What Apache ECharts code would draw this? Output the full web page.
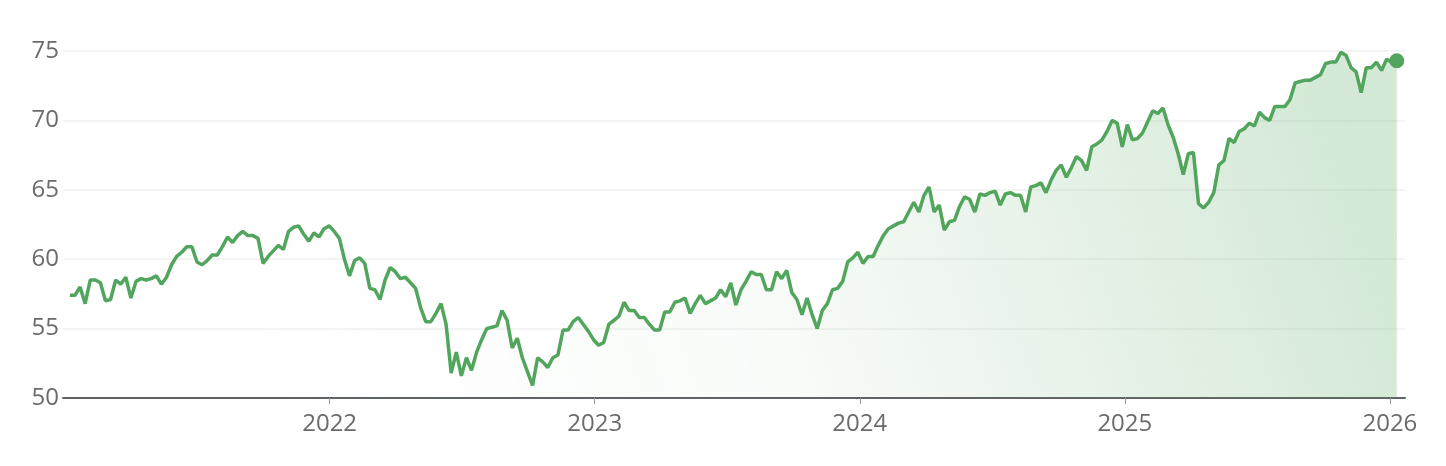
<!DOCTYPE html>
<html>
<head>
<meta charset="utf-8">
<script src="https://cdn.jsdelivr.net/npm/echarts@6/dist/echarts.min.js"></script>
<style>
  html, body { margin: 0; padding: 0; background: #fff; }
  #main { width: 1446px; height: 466px; }
</style>
</head>
<body>
<div id="main"></div>
<script>
// weekly closes, Jan 2021 .. Jan 2026
const values = [
  57.4, 57.4, 58.0, 56.8, 58.5, 58.5, 58.3, 57.0, 57.1, 58.5, 58.2, 58.7, 57.2, 58.4, 58.6, 58.5,
  58.6, 58.8, 58.2, 58.7, 59.6, 60.2, 60.5, 60.9, 60.9, 59.8, 59.6, 59.9, 60.3, 60.3, 60.9, 61.6,
  61.2, 61.7, 62.0, 61.7, 61.7, 61.5, 59.7, 60.2, 60.6, 61.0, 60.7, 62.0, 62.3, 62.4, 61.8, 61.3,
  61.9, 61.6, 62.2, 62.4, 62.0, 61.5, 60.0, 58.8, 59.9, 60.1, 59.7, 57.9, 57.8, 57.1, 58.5, 59.4,
  59.1, 58.6, 58.7, 58.3, 57.9, 56.5, 55.5, 55.5, 56.1, 56.8, 55.3, 51.8, 53.3, 51.6, 52.9, 52.0,
  53.3, 54.2, 55.0, 55.1, 55.2, 56.3, 55.6, 53.6, 54.3, 52.9, 51.9, 50.9, 52.9, 52.6, 52.2, 52.9,
  53.1, 54.9, 54.9, 55.5, 55.8, 55.3, 54.8, 54.2, 53.8, 54.0, 55.3, 55.6, 55.9, 56.9, 56.3, 56.3,
  55.8, 55.8, 55.3, 54.9, 54.9, 56.2, 56.2, 56.9, 57.0, 57.2, 56.1, 56.8, 57.4, 56.8, 57.0, 57.2,
  57.8, 57.3, 58.3, 56.7, 57.8, 58.4, 59.1, 58.9, 58.9, 57.8, 57.8, 59.1, 58.6, 59.2, 57.6, 57.1,
  56.0, 57.2, 56.0, 55.0, 56.3, 56.8, 57.8, 57.9, 58.4, 59.8, 60.1, 60.5, 59.7, 60.2, 60.2, 61.0,
  61.7, 62.2, 62.4, 62.6, 62.7, 63.4, 64.1, 63.4, 64.6, 65.2, 63.4, 63.9, 62.1, 62.7, 62.8, 63.8,
  64.5, 64.3, 63.4, 64.7, 64.6, 64.8, 64.9, 63.9, 64.7, 64.8, 64.6, 64.6, 63.4, 65.2, 65.3, 65.5,
  64.8, 65.7, 66.4, 66.8, 65.9, 66.6, 67.4, 67.1, 66.4, 68.1, 68.3, 68.6, 69.2, 70.0, 69.8, 68.1,
  69.7, 68.6, 68.7, 69.1, 69.9, 70.7, 70.5, 70.9, 69.7, 68.8, 67.6, 66.1, 67.6, 67.7, 64.0, 63.7,
  64.1, 64.8, 66.8, 67.1, 68.7, 68.4, 69.2, 69.4, 69.8, 69.6, 70.6, 70.2, 70.0, 71.0, 71.0, 71.0,
  71.5, 72.7, 72.8, 72.9, 72.9, 73.1, 73.3, 74.1, 74.2, 74.2, 74.9, 74.7, 73.8, 73.5, 72.0, 73.8,
  73.8, 74.2, 73.6, 74.4, 74.2, 74.3
];
const yearTicks = [2022, 2023, 2024, 2025, 2026];

const firstYear = 2021.02, lastYear = 2026.026;
const step = (lastYear - firstYear) / (values.length - 1);
const points = values.map((v, i) => [firstYear + i * step, v]);

const green = '#52a55c';
const labelFont = { color: '#6b6b6b', fontSize: 24, fontFamily: 'Open Sans' };
const chart = echarts.init(document.getElementById('main'));
chart.setOption({
  animation: false,
  grid: { left: 63, right: 41, top: 51, bottom: 68 },
  xAxis: {
    type: 'value',
    min: 2020.994,
    max: 2026.057,
    axisLine: { show: true, lineStyle: { color: '#5f6368', width: 2 } },
    axisTick: { show: true, customValues: yearTicks, length: 6, lineStyle: { color: '#999' } },
    axisLabel: Object.assign({
      customValues: yearTicks, margin: 14,
      formatter: v => String(Math.round(v))
    }, labelFont),
    splitLine: { show: false }
  },
  yAxis: {
    type: 'value',
    min: 50, max: 75, interval: 5,
    axisLine: { show: false },
    axisTick: { show: false },
    axisLabel: Object.assign({ margin: 4 }, labelFont),
    splitLine: { lineStyle: { color: '#f0f0f0', width: 1.5 } }
  },
  series: [{
    type: 'line',
    data: points,
    showSymbol: false,
    lineStyle: { color: green, width: 3.5 },
    areaStyle: {
      color: new echarts.graphic.LinearGradient(0.15, 1.1, 0.95, 0, [
        { offset: 0, color: 'rgba(82,165,92,0)' },
        { offset: 0.45, color: 'rgba(82,165,92,0.05)' },
        { offset: 1, color: 'rgba(82,165,92,0.36)' }
      ])
    },
    markPoint: {
      symbol: 'circle', symbolSize: 15, itemStyle: { color: green },
      label: { show: false },
      data: [{ coord: points[points.length - 1] }]
    }
  }]
});
</script>
</body>
</html>
